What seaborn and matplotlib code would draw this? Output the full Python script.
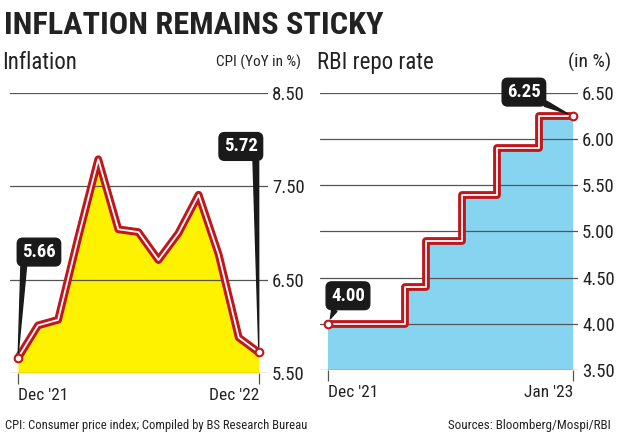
import matplotlib
matplotlib.use("Agg")
import matplotlib.pyplot as plt
import matplotlib.patheffects as pe
from matplotlib import font_manager
import seaborn as sns
import pandas as pd
import numpy as np

# CPI inflation, monthly (YoY in %)
months = ["Dec '21", "Jan '22", "Feb '22", "Mar '22", "Apr '22", "May '22", "Jun '22",
          "Jul '22", "Aug '22", "Sep '22", "Oct '22", "Nov '22", "Dec '22"]
cpi = [5.66, 6.01, 6.07, 6.95, 7.79, 7.04, 7.01, 6.71, 7.00, 7.41, 6.77, 5.88, 5.72]

# RBI repo rate changes (%)
repo_dates = ["2021-12-31", "2022-05-04", "2022-06-08", "2022-08-05",
              "2022-09-30", "2022-12-07", "2023-01-31"]
repo_rates = [4.00, 4.40, 4.90, 5.40, 5.90, 6.25, 6.25]

cpi_ticks = [5.50, 6.50, 7.50, 8.50]
repo_ticks = [3.50, 4.00, 4.50, 5.00, 5.50, 6.00, 6.50]

sns.set_theme(style="white")
# pick the narrowest family we have
have = {f.name for f in font_manager.fontManager.ttflist}
fam = 'DejaVu Sans'
for cand in ['Roboto Condensed', 'Liberation Sans Narrow', 'Open Sans Condensed',
             'Noto Sans Condensed', 'Roboto', 'Liberation Sans']:
    if cand in have:
        fam = cand
        break
plt.rcParams['font.family'] = [fam, 'DejaVu Sans']

RED = "#c0161c"
YELLOW = "#fff200"
BLUE = "#87d4f1"
GRID = "#555555"
INK = "#222222"

line_fx = [pe.Stroke(linewidth=5.6, foreground=RED), pe.Normal()]

fig = plt.figure(figsize=(6.2, 4.43), dpi=100)
ax1 = fig.add_axes([0.016, 0.158, 0.416, 0.632])
ax2 = fig.add_axes([0.516, 0.165, 0.416, 0.625])

# ---- left: inflation
df_cpi = pd.DataFrame({'idx': np.arange(len(cpi)), 'cpi': cpi})
ax1.fill_between(df_cpi['idx'], cpi, 5.5, color=YELLOW, lw=0, zorder=1)
for t in cpi_ticks:
    ax1.axhline(t, color=GRID, lw=0.9, zorder=2)
sns.lineplot(data=df_cpi, x='idx', y='cpi', ax=ax1, color='white', lw=1.3,
             path_effects=line_fx, zorder=3)
ax1.plot([0, 12], [cpi[0], cpi[-1]], 'o', ms=5.5, mfc='white', mec=RED, mew=1.5,
         zorder=5, clip_on=False)
ax1.set_xlim(-0.4, 12.45)
ax1.set_ylim(5.5, 8.5)

# ---- right: repo rate
df_repo = pd.DataFrame({'date': pd.to_datetime(repo_dates), 'rate': repo_rates})
ax2.fill_between(df_repo['date'], repo_rates, 3.5, step='post', color=BLUE, lw=0, zorder=1)
for t in repo_ticks:
    ax2.axhline(t, color=GRID, lw=0.9, zorder=2)
sns.lineplot(data=df_repo, x='date', y='rate', ax=ax2, color='white', lw=1.3,
             drawstyle='steps-post', path_effects=line_fx, zorder=3)
ax2.plot([df_repo['date'].iloc[0], df_repo['date'].iloc[-1]], [repo_rates[0], repo_rates[-1]],
         'o', ms=5.5, mfc='white', mec=RED, mew=1.5, zorder=5, clip_on=False)
ax2.set_xlim(pd.Timestamp("2021-12-18"), pd.Timestamp("2023-02-08"))
ax2.set_ylim(3.5, 6.5)

for ax, ticks in [(ax1, cpi_ticks), (ax2, repo_ticks)]:
    sns.despine(ax=ax, left=True, bottom=True, top=True, right=True)
    ax.set_xlabel("")
    ax.set_ylabel("")
    ax.yaxis.tick_right()
    ax.set_yticks(ticks)
    ax.set_yticklabels([f"{t:.2f}" for t in ticks])
    ax.tick_params(axis='y', length=0, pad=3, labelsize=13.5, colors=INK)
    ax.tick_params(axis='x', length=8, width=0.9, color=GRID, direction='out',
                   bottom=True, pad=3, labelsize=12.5, labelcolor=INK)
    ax.set_facecolor('none')

ax1.set_xticks([0, 12])
ax1.set_xticklabels([months[0], months[-1]])
ax2.set_xticks([df_repo['date'].iloc[0], df_repo['date'].iloc[-1]])
ax2.set_xticklabels(["Dec '21", "Jan '23"])
for ax in (ax1, ax2):
    labs = ax.get_xticklabels()
    labs[0].set_ha('left')
    labs[-1].set_ha('right')

# callouts
box = dict(boxstyle="round,pad=0.26,rounding_size=0.3", fc="#1a1a1a", ec="#1a1a1a")
txt = dict(color='white', fontsize=13.5, fontweight='bold', textcoords='offset pixels',
           zorder=6, ha='center', va='center', bbox=box, annotation_clip=False)


def pointer(rx):
    return dict(arrowstyle="wedge,tail_width=0.3", fc="#1a1a1a", ec="#1a1a1a",
                shrinkA=0, shrinkB=4, relpos=(rx, 0.1))


ax1.annotate("5.66", xy=(0, cpi[0]), xytext=(21, 106), arrowprops=pointer(0.06), **txt)
ax1.annotate("5.72", xy=(12, cpi[-1]), xytext=(-18, 206), arrowprops=pointer(0.94), **txt)
ax2.annotate("6.25", xy=(df_repo['date'].iloc[-1], repo_rates[-1]), xytext=(-49, 24),
             arrowprops=pointer(0.85), **txt)
ax2.annotate("4.00", xy=(df_repo['date'].iloc[0], repo_rates[0]), xytext=(20, 28),
             arrowprops=pointer(0.2), **txt)

# titles and notes
title = fig.text(0.006, 0.978, "INFLATION REMAINS STICKY", fontsize=28, fontweight='bold',
                 color=INK, va='top', ha='left')
fig.text(0.004, 0.86, "Inflation", fontsize=16.5, color=INK, va='center', ha='left')
cpi_unit = fig.text(0.485, 0.86, "CPI (YoY in %)", fontsize=12, color=INK, va='center', ha='right')
fig.text(0.512, 0.86, "RBI repo rate", fontsize=16.5, color=INK, va='center', ha='left')
fig.text(0.985, 0.86, "(in %)", fontsize=14, color=INK, va='center', ha='right')
note = fig.text(0.008, 0.04, "CPI: Consumer price index; Compiled by BS Research Bureau",
                fontsize=10, color=INK, va='center', ha='left')
src = fig.text(0.985, 0.04, "Sources: Bloomberg/Mospi/RBI", fontsize=10, color=INK,
               va='center', ha='right')

# shrink wide texts to the widths they take in the original layout
r = fig.canvas.get_renderer()
for t, w in [(title, 380), (note, 300), (src, 162), (cpi_unit, 85)]:
    cur = t.get_window_extent(r).width
    if cur > w:
        t.set_fontsize(t.get_fontsize() * w / cur)

fig.savefig("out.png", dpi=100)
